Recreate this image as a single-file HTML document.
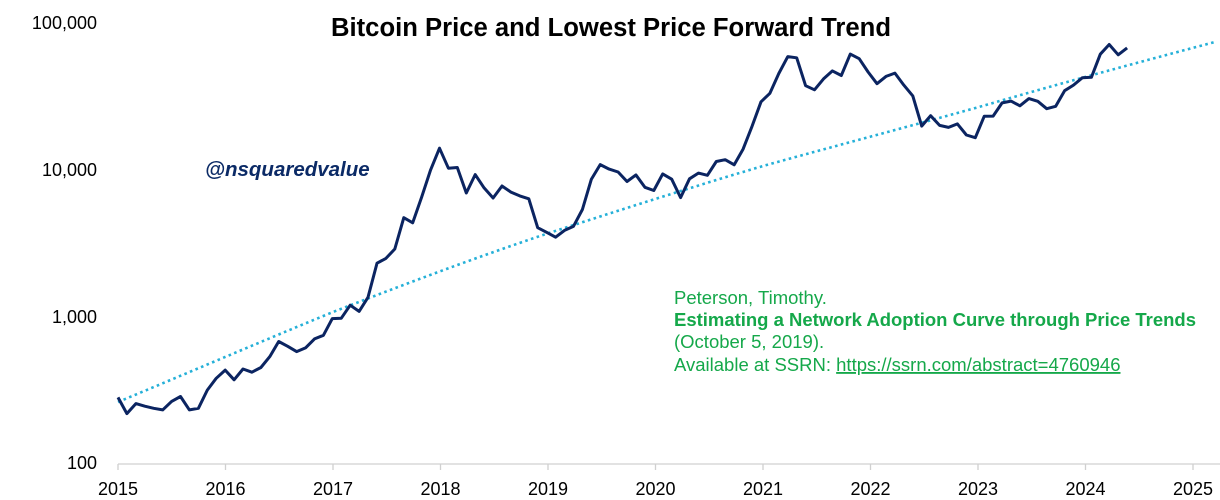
<!DOCTYPE html>
<html><head><meta charset="utf-8"><style>
body{margin:0;background:#fff;}
svg{display:block;font-family:"Liberation Sans",sans-serif;}
</style></head><body>
<svg id="c" width="1220" height="500" xmlns="http://www.w3.org/2000/svg">
<text x="611" y="36" text-anchor="middle" font-size="25.5" font-weight="bold" fill="#000" textLength="560" lengthAdjust="spacingAndGlyphs">Bitcoin Price and Lowest Price Forward Trend</text>
<g font-size="18" fill="#000" text-anchor="end">
<text x="97" y="29">100,000</text>
<text x="97" y="176">10,000</text>
<text x="97" y="323">1,000</text>
<text x="97" y="469">100</text>
</g>
<line x1="118" y1="464" x2="1220" y2="464" stroke="#d0d0d0" stroke-width="1.3"/>
<g id="xt" font-size="18" fill="#000" text-anchor="middle"></g>
<text x="205" y="176" font-size="20.5" font-weight="bold" font-style="italic" fill="#0b2a66">@nsquaredvalue</text>
<g font-size="18.5" fill="#15a84a">
<text x="674" y="304">Peterson, Timothy.</text>
<text x="674" y="326" font-weight="bold" textLength="522" lengthAdjust="spacingAndGlyphs">Estimating a Network Adoption Curve through Price Trends</text>
<text x="674" y="348">(October 5, 2019).</text>
<text x="674" y="371">Available at SSRN: <tspan text-decoration="underline">https://ssrn.com/abstract=4760946</tspan></text>
</g>
<path d="M118,402 C190,372 260,342 333,312 C405,284 477,257 549,233 C620,210 692,187 763,166 C835,146 907,127 979,107 C1058,84 1136,63 1215,42" fill="none" stroke="#25b0d8" stroke-width="2.6" stroke-dasharray="2.6,3.4"/>
<polyline id="p" fill="none" stroke="#0b2461" stroke-width="3" stroke-linejoin="round"/>
</svg>
<script>
var d=[280,217,254,244,236,230,263,284,230,236,314,378,430,
369,437,416,448,531,673,624,575,609,701,742,964,
970,1190,1080,1348,2300,2480,2875,4700,4340,6470,9950,14000,
10220,10330,6930,9240,7500,6400,7730,7030,6620,6320,4020,3740,
3460,3850,4100,5350,8570,10820,10080,9630,8300,9200,7570,7200,
9350,8600,6440,8660,9460,9140,11350,11680,10780,13800,19700,29000,
33100,45200,58900,57800,37300,35000,41500,47100,43800,61300,57000,46300,
38500,43200,45500,37700,31800,19800,23300,20000,19400,20500,17200,16500,
23100,23150,28500,29300,27200,30500,29200,26000,27000,34500,37700,42300,
42600,61200,71300,60600,67500];
var pts=d.map(function(v,i){return (118+i*8.93).toFixed(1)+","+(463-146.7*Math.log10(v/100)).toFixed(1);});
document.getElementById("p").setAttribute("points",pts.join(" "));
var g=document.getElementById("xt"),s="";
for(var y=2015;y<=2025;y++){var x=118+(y-2015)*107.5;
s+='<line x1="'+x+'" y1="464" x2="'+x+'" y2="470" stroke="#d0d0d0" stroke-width="1.3"/><text x="'+x+'" y="495">'+y+'</text>';}
g.innerHTML=s;
</script>
</body></html>
